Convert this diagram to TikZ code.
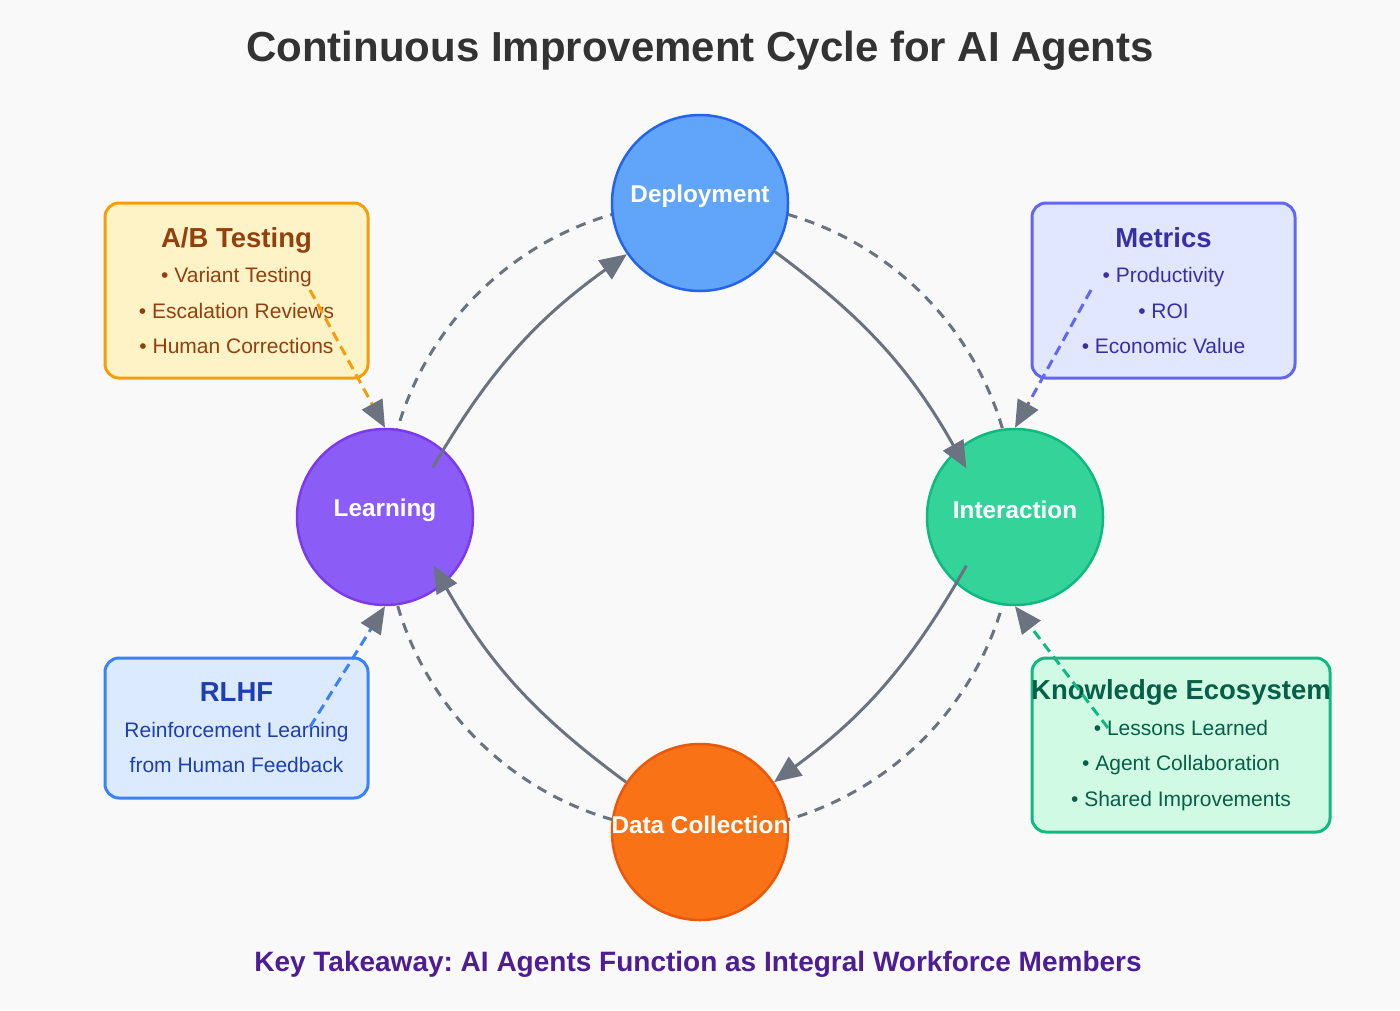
\documentclass[tikz,border=0pt]{standalone}
\usepackage{fontspec}
\setmainfont{Liberation Sans}
\usepackage{xcolor}
\usepackage{tikz}
\usetikzlibrary{arrows.meta,positioning,calc}
\frenchspacing
\definecolor{pageBg}{HTML}{F9F9F9}
\definecolor{titleGray}{HTML}{333333}
\definecolor{arrowGray}{HTML}{6B7280}
\definecolor{takeaway}{HTML}{4C1D95}
\definecolor{deployFill}{HTML}{60A5FA}
\definecolor{deployLine}{HTML}{2563EB}
\definecolor{learnFill}{HTML}{8B5CF6}
\definecolor{learnLine}{HTML}{7C3AED}
\definecolor{interFill}{HTML}{34D399}
\definecolor{interLine}{HTML}{10B981}
\definecolor{dataFill}{HTML}{F97316}
\definecolor{dataLine}{HTML}{EA580C}
\definecolor{abFill}{HTML}{FEF3C7}
\definecolor{abLine}{HTML}{F59E0B}
\definecolor{abText}{HTML}{92400E}
\definecolor{metFill}{HTML}{E0E7FF}
\definecolor{metLine}{HTML}{6366F1}
\definecolor{metText}{HTML}{3730A3}
\definecolor{rlFill}{HTML}{DBEAFE}
\definecolor{rlLine}{HTML}{3B82F6}
\definecolor{rlText}{HTML}{1E40AF}
\definecolor{knFill}{HTML}{D1FAE5}
\definecolor{knLine}{HTML}{10B981}
\definecolor{knText}{HTML}{065F46}
\newcommand{\boxhead}[1]{{\bfseries\fontsize{27.5}{35.5}\selectfont #1}}
\tikzset{
  stage/.style={circle,minimum size=176pt,inner sep=0pt,line width=2.5pt},
  stagelbl/.style={text=white,font=\bfseries\fontsize{24.3}{28}\selectfont},
  infobox/.style={rounded corners=14pt,line width=3pt,inner sep=0pt},
  infotxt/.style={align=center,font=\fontsize{21}{35.5}\selectfont},
  ring/.style={arrowGray,line width=3pt,dash pattern=on 10pt off 8pt},
  flow/.style={arrowGray,line width=3pt,-{Triangle[length=27pt,width=23pt]}},
  feed/.style={line width=3pt,dash pattern=on 10pt off 6pt,
    -{Triangle[length=27pt,width=23pt,color=arrowGray]}},
}
\begin{document}
\begin{tikzpicture}[x=1pt,y=-1pt]
  \fill[pageBg] (0,0) rectangle (1400,1010);
  \useasboundingbox (0,0) rectangle (1400,1010);
  \node[font=\bfseries\fontsize{42}{48}\selectfont,text=titleGray] (title) at (700,51)
    {Continuous Improvement Cycle for AI Agents};

  % dashed ring through the four stages
  \coordinate (hub) at (700,517);
  \draw[ring] (hub) circle[radius=315pt];

  \node[stage,fill=deployFill,draw=deployLine] (deploy) at (700,203) {};
  \node[stage,fill=learnFill,draw=learnLine] (learn) at (385,517) {};
  \node[stage,fill=interFill,draw=interLine] (inter) at (1015,517) {};
  \node[stage,fill=dataFill,draw=dataLine] (data) at (700,832) {};
  \node[stagelbl] at ($(deploy)+(0,-7)$) {Deployment};
  \node[stagelbl] at ($(learn)+(0,-7)$) {Learning};
  \node[stagelbl] at ($(inter)+(0,-7)$) {Interaction};
  \node[stagelbl] at ($(data)+(0,-7)$) {Data Collection};

  \node[infobox,fill=abFill,draw=abLine,minimum width=263pt,minimum height=175pt] (abtest) at (236.5,290.5) {};
  \node[infobox,fill=metFill,draw=metLine,minimum width=263pt,minimum height=175pt] (metrics) at (1163.5,290.5) {};
  \node[infobox,fill=rlFill,draw=rlLine,minimum width=263pt,minimum height=140pt] (rlhf) at (236.5,728) {};
  \node[infobox,fill=knFill,draw=knLine,minimum width=298pt,minimum height=174pt] (know) at (1181,745) {};
  \node[infotxt,text=abText] at (abtest) {\boxhead{A/B Testing}\\ • Variant Testing\\ • Escalation Reviews\\ • Human Corrections};
  \node[infotxt,text=metText] at (metrics) {\boxhead{Metrics}\\ • Productivity\\ • ROI\\ • Economic Value};
  \node[infotxt,text=rlText] at (rlhf) {\boxhead{RLHF}\\ Reinforcement Learning\\ from Human Feedback};
  \node[infotxt,text=knText] at (know) {\boxhead{Knowledge Ecosystem}\\ • Lessons Learned\\ • Agent Collaboration\\ • Shared Improvements};

  % main cycle
  \draw[flow] ($(learn)!0.77!(learn.46)$) to[bend left=12] (deploy.215);
  \draw[flow] (deploy.-33) to[bend left=12] ($(inter)!0.77!(inter.135)$);
  \draw[flow] ($(inter)!0.77!(inter.225)$) to[bend left=12] (data.34);
  \draw[flow] (data.146) to[bend left=12] ($(learn)!0.77!(learn.-45)$);

  % feedback from the side boxes
  \coordinate (abtail) at (310,290);
  \coordinate (mettail) at (1091,290);
  \coordinate (rltail) at (310,727);
  \coordinate (kntail) at (1108,728);
  \draw[feed,abLine] (abtail) -- (learn.north);
  \draw[feed,metLine] (mettail) -- (inter.north);
  \draw[feed,rlLine] (rltail) -- (learn.south);
  \draw[feed,knLine] (kntail) -- (inter.south);

  \node[font=\bfseries\fontsize{28}{32}\selectfont,text=takeaway] (takeaway) at (698,964)
    {Key Takeaway: AI Agents Function as Integral Workforce Members};
\end{tikzpicture}
\end{document}
